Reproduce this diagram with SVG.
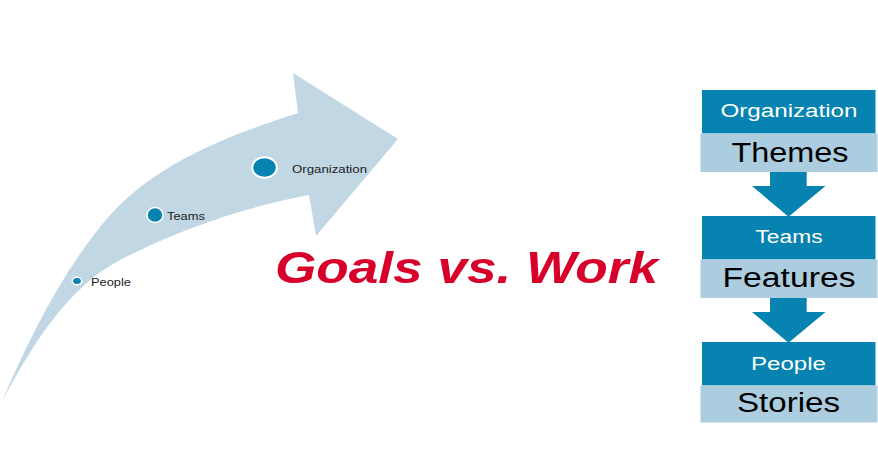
<svg xmlns="http://www.w3.org/2000/svg" width="878" height="476" viewBox="0 0 878 476">
<defs>
<style>
.dark{fill:#0683B0}
.light{fill:#ABCDDF}
.wt{font-family:"Liberation Sans",Arial,sans-serif;font-size:18px;fill:#FFFFFF;text-anchor:middle}
.bt{font-family:"Liberation Sans",Arial,sans-serif;font-size:27px;fill:#000000;text-anchor:middle}
.lbl{font-family:"Liberation Sans",Arial,sans-serif;font-size:11.5px;fill:#222222}
.dot{fill:#0683B0;stroke:#FFFFFF}
.conn{fill:#0683B0}
</style>
</defs>
<rect width="878" height="476" fill="#FFFFFF"/>
<g id="big-arrow">
<path fill="#C1D7E4" d="M2,401 C29.7,337.8 60.8,274 105,221 C152.4,164.2 227.5,135.6 298,113 L293,73 L398,139 L316,236 L309,195 C244.1,207.1 178.5,229.6 120,260 C65.9,288.1 31.5,347.6 2,401 Z"/>
</g>
<g id="goal-people">
<ellipse class="dot" cx="77" cy="281" rx="4.7" ry="3.8" stroke-width="1.5"/>
<text class="lbl" x="91" y="286" textLength="40" lengthAdjust="spacingAndGlyphs">People</text>
</g>
<g id="goal-teams">
<ellipse class="dot" cx="155" cy="215" rx="8" ry="7.4" stroke-width="1.5"/>
<text class="lbl" x="167" y="219.5" textLength="38" lengthAdjust="spacingAndGlyphs">Teams</text>
</g>
<g id="goal-organization">
<ellipse class="dot" cx="264.5" cy="167.5" rx="12.3" ry="10.2" stroke-width="2"/>
<text class="lbl" x="292" y="172.7" textLength="75" lengthAdjust="spacingAndGlyphs">Organization</text>
</g>
<g id="title">
<text x="275" y="283.3" textLength="383" lengthAdjust="spacingAndGlyphs" style="font-family:'Liberation Sans',Arial,sans-serif;font-size:44px;font-weight:bold;font-style:italic;fill:#D7002B">Goals vs. Work</text>
</g>
<g id="connectors">
<path class="conn" d="M770,172 L806.7,172 L806.7,186 L825.5,186 L788.5,216.7 L752,186 L770,186 Z"/>
<path class="conn" d="M770,298 L806.7,298 L806.7,312 L825.5,312 L788.5,342.7 L752,312 L770,312 Z"/>
</g>
<g id="node-organization">
<rect class="dark" x="702" y="90" width="173.5" height="43.5"/>
<rect class="light" x="700.5" y="133.5" width="177" height="38.5"/>
<text class="wt" x="789" y="116.7" textLength="137" lengthAdjust="spacingAndGlyphs">Organization</text>
<text class="bt" x="790" y="162" textLength="117" lengthAdjust="spacingAndGlyphs">Themes</text>
</g>
<g id="node-teams">
<rect class="dark" x="702" y="216" width="173.5" height="43.5"/>
<rect class="light" x="700.5" y="259.5" width="177" height="38.5"/>
<text class="wt" x="789" y="243.3" textLength="67" lengthAdjust="spacingAndGlyphs">Teams</text>
<text class="bt" x="789" y="287" textLength="133" lengthAdjust="spacingAndGlyphs">Features</text>
</g>
<g id="node-people">
<rect class="dark" x="702" y="342" width="173.5" height="43.5"/>
<rect class="light" x="700.5" y="385.5" width="177" height="37"/>
<text class="wt" x="788.5" y="370" textLength="75" lengthAdjust="spacingAndGlyphs">People</text>
<text class="bt" x="788.5" y="412" textLength="103" lengthAdjust="spacingAndGlyphs">Stories</text>
</g>
</svg>
